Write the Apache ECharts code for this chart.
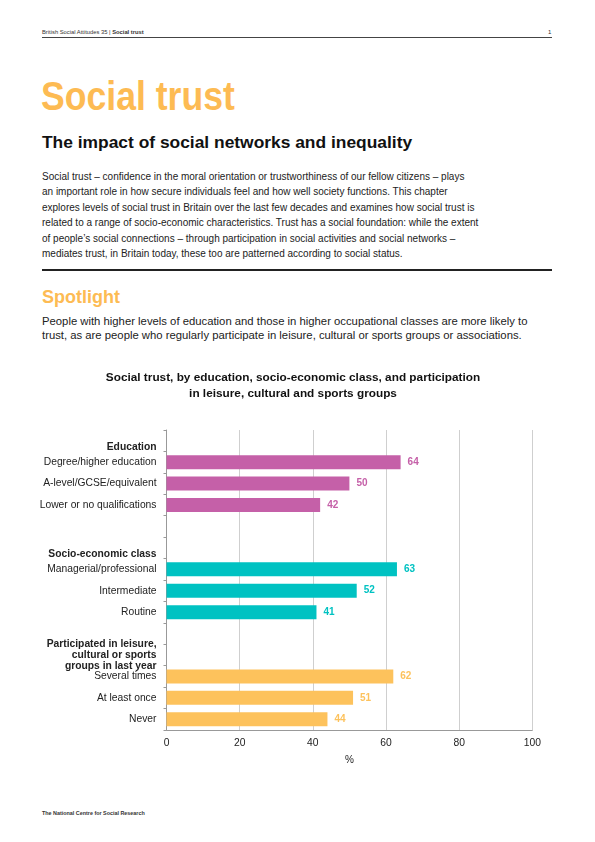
<!DOCTYPE html>
<html>
<head>
<meta charset="utf-8">
<script src="https://cdn.jsdelivr.net/npm/echarts@6/dist/echarts.min.js"></script>
<style>
  body { margin: 0; width: 595px; height: 842px; background: #fff; font-family: "Liberation Sans", Arial, sans-serif; color: #222; position: relative; overflow: hidden; }
  .abs { position: absolute; white-space: nowrap; }
  .runhead { left: 42px; top: 29px; font-size: 5.8px; color: #333; }
  .pageno { left: 548px; top: 29px; font-size: 6px; color: #333; }
  .rule1 { position: absolute; left: 42px; top: 37px; width: 510px; height: 1px; background: #444; }
  .big { left: 41px; top: 74px; font-weight: bold; font-size: 40px; color: #fdbb53; transform: scaleX(0.89); transform-origin: left top; }
  .sub { left: 42px; top: 132px; font-weight: bold; font-size: 17.4px; color: #111; }
  .para { left: 42px; top: 169px; font-size: 10px; line-height: 15.4px; white-space: pre; color: #222; }
  .rule2 { position: absolute; left: 42px; top: 269px; width: 510px; height: 1.5px; background: #222; }
  .spot { left: 42px; top: 287px; font-weight: bold; font-size: 18px; color: #fdbb53; }
  .para2 { left: 42px; top: 315px; font-size: 11.3px; line-height: 13.6px; white-space: pre; color: #222; }
  .foot { left: 42px; top: 810px; font-size: 5.4px; font-weight: bold; color: #333; }
  #chart { position: absolute; left: 0; top: 355px; width: 586px; height: 430px; }
</style>
</head>
<body>
<div class="abs runhead">British Social Attitudes 35 | <b>Social trust</b></div>
<div class="abs pageno">1</div>
<div class="rule1"></div>
<div class="abs big">Social trust</div>
<div class="abs sub">The impact of social networks and inequality</div>
<div class="abs para">Social trust – confidence in the moral orientation or trustworthiness of our fellow citizens – plays
an important role in how secure individuals feel and how well society functions. This chapter
explores levels of social trust in Britain over the last few decades and examines how social trust is
related to a range of socio-economic characteristics. Trust has a social foundation: while the extent
of people’s social connections – through participation in social activities and social networks –
mediates trust, in Britain today, these too are patterned according to social status.</div>
<div class="rule2"></div>
<div class="abs spot">Spotlight</div>
<div class="abs para2">People with higher levels of education and those in higher occupational classes are more likely to
trust, as are people who regularly participate in leisure, cultural or sports groups or associations.</div>
<div id="chart"></div>
<div class="abs foot">The National Centre for Social Research</div>

<script>
// 数据
const groupNames = ['Education', 'Socio-economic class', 'Participated in leisure,\ncultural or sports\ngroups in last year']
const educationCats = ['Degree/higher education', 'A-level/GCSE/equivalent', 'Lower or no qualifications']
const educationVals = [64, 50, 42]
const classCats = ['Managerial/professional', 'Intermediate', 'Routine']
const classVals = [63, 52, 41]
const partCats = ['Several times', 'At least once', 'Never']
const partVals = [62, 51, 44]
const xTicks = [0, 20, 40, 60, 80, 100]

const myColor = ['#c560a8', '#00c2c2', '#fdc25c']

let myChart = echarts.init(document.getElementById('chart'))

// 把三组拼成一条类目轴，组标题和空行没有柱子
let categories = []
let barData = []
let groups = [[educationCats, educationVals], [classCats, classVals], [partCats, partVals]]
groups.forEach(function (g, i) {
  let multi = i === 2
  categories.push({
    value: groupNames[i],
    textStyle: {
      fontWeight: 'bold',
      verticalAlign: multi ? 'middle' : 'top',
      lineHeight: 11.2,
      padding: multi ? [0, 0, 8, 0] : [1, 0, 0, 0]
    }
  })
  barData.push(null)
  g[0].forEach(function (name, k) {
    categories.push(name)
    barData.push({
      value: g[1][k],
      itemStyle: { color: myColor[i] },
      label: { color: myColor[i] }
    })
  })
  if (i < 2) {
    categories.push(' '.repeat(i + 1))
    barData.push(null)
  }
})

let option = {
  animation: false,
  title: {
    text: 'Social trust, by education, socio-economic class, and participation\nin leisure, cultural and sports groups',
    left: 'center',
    top: 10,
    textStyle: {
      fontFamily: 'Liberation Sans',
      fontSize: 11.8,
      fontWeight: 'bold',
      lineHeight: 15.5,
      color: '#111'
    }
  },
  grid: {
    left: 166.5,
    right: 586 - 532.3,
    top: 75,
    height: 300
  },
  xAxis: {
    type: 'value',
    min: xTicks[0],
    max: xTicks[xTicks.length - 1],
    interval: xTicks[1] - xTicks[0],
    name: '%',
    nameLocation: 'middle',
    nameGap: 25,
    nameTextStyle: { fontFamily: 'Liberation Sans', fontSize: 10, color: '#222' },
    axisLine: { show: true, lineStyle: { color: '#999' } },
    axisTick: { show: false },
    axisLabel: { fontFamily: 'Liberation Sans', fontSize: 10.3, color: '#222', margin: 8 },
    splitLine: { lineStyle: { color: '#cfcfcf' } }
  },
  yAxis: {
    type: 'category',
    inverse: true,
    data: categories,
    axisLine: { show: true, lineStyle: { color: '#999' } },
    axisTick: { show: true, length: 3, lineStyle: { color: '#999' } },
    axisLabel: {
      fontFamily: 'Liberation Sans',
      fontSize: 10.3,
      color: '#222',
      margin: 10,
      interval: 0
    }
  },
  series: [
    {
      type: 'bar',
      data: barData,
      barWidth: 14,
      label: {
        show: true,
        position: 'right',
        distance: 7,
        fontFamily: 'Liberation Sans',
        fontSize: 10,
        fontWeight: 'bold'
      }
    }
  ]
}
myChart.setOption(option)
</script>
</body>
</html>
